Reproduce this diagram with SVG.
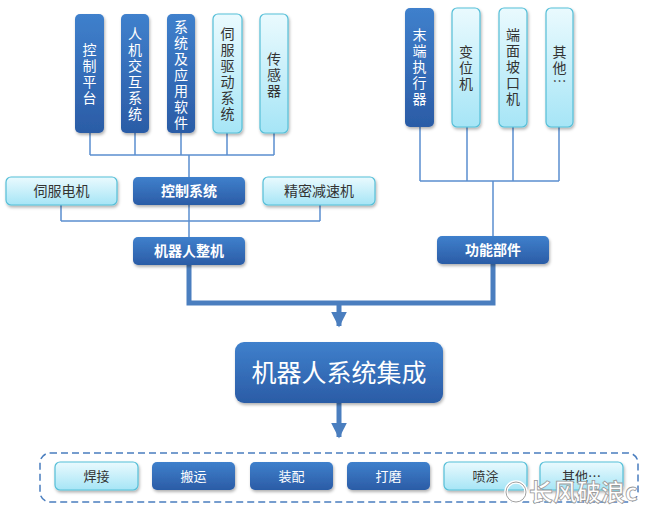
<svg xmlns="http://www.w3.org/2000/svg" width="650" height="510" viewBox="0 0 650 510">
<defs>
<linearGradient id="gd" x1="0" y1="0" x2="0" y2="1">
<stop offset="0" stop-color="#3f80cc"/>
<stop offset="1" stop-color="#2b5ca6"/>
</linearGradient>
<linearGradient id="gl" x1="0" y1="0" x2="0" y2="1">
<stop offset="0" stop-color="#eafafe"/>
<stop offset="1" stop-color="#a6e5f6"/>
</linearGradient>
<filter id="sh" x="-20%" y="-20%" width="140%" height="150%">
<feDropShadow dx="1" dy="2" stdDeviation="1.5" flood-color="#000" flood-opacity="0.3"/>
</filter>
<marker id="ah" viewBox="0 0 10 10" refX="9" refY="5" markerWidth="3.2" markerHeight="3.2" orient="auto" markerUnits="strokeWidth">
<path d="M0,0 L10,5 L0,10 z" fill="#4a7ebf"/>
</marker>
</defs>
<style>
.d{fill:url(#gd);filter:url(#sh)}
.l{fill:url(#gl);stroke:#55bfd8;stroke-width:1.2;filter:url(#sh)}
.t{font-family:"Noto Sans CJK SC","Liberation Sans",sans-serif;font-size:14px;text-anchor:middle}
.v{writing-mode:vertical-rl;text-orientation:upright;letter-spacing:2px}
.w{fill:#ffffff}
.k{fill:#333333}
.b{font-weight:bold}
.thin{fill:none;stroke:#5b8fd0;stroke-width:1.5}
.thick{fill:none;stroke:#4a7ebf;stroke-width:5}
</style>
<g id="connectors">
<path class="thin" d="M90,133 V155 M135,133 V155 M181,133 V155 M227,133 V155 M274,133 V155 M90,155 H274 M189,155 V177"/>
<path class="thin" d="M61,205 V221 M320,205 V221 M61,221 H320 M189,205 V237"/>
<path class="thin" d="M420,127 V181 M467,127 V181 M513,127 V181 M559,127 V181 M420,181 H559 M493,181 V236"/>
<path class="thick" d="M189,265 V303 H493 V264"/>
<path class="thick" d="M339,303 V326" marker-end="url(#ah)"/>
<path class="thick" d="M339,403 V437" marker-end="url(#ah)"/>
</g>
<g id="n1"><rect class="d" x="75" y="14" width="29" height="119" rx="5"/>
<text class="t v w" x="89.5" y="75">控制平台</text></g>
<g id="n2"><rect class="d" x="121" y="14" width="28" height="119" rx="5"/>
<text class="t v w" x="135" y="75">人机交互系统</text></g>
<g id="n3"><rect class="d" x="167" y="14" width="28" height="119" rx="5"/>
<text class="t v w" x="181" y="76">系统及应用软件</text></g>
<g id="n4"><rect class="l" x="213" y="14" width="29" height="119" rx="5"/>
<text class="t v k" x="227.5" y="75">伺服驱动系统</text></g>
<g id="n5"><rect class="l" x="260" y="14" width="28" height="119" rx="5"/>
<text class="t v k" x="274" y="76">传感器</text></g>
<g id="n6"><rect class="d" x="405" y="8" width="29" height="119" rx="5"/>
<text class="t v w" x="419.5" y="68">末端执行器</text></g>
<g id="n7"><rect class="l" x="452" y="8" width="28" height="119" rx="5"/>
<text class="t v k" x="466" y="69">变位机</text></g>
<g id="n8"><rect class="l" x="499" y="8" width="28" height="119" rx="5"/>
<text class="t v k" x="513" y="68">端面坡口机</text></g>
<g id="n9"><rect class="l" x="546" y="8" width="27" height="119" rx="5"/>
<text class="t v k" x="559.5" y="61">其他</text>
<text class="t k" x="559.5" y="86">…</text></g>
<g id="n10"><rect class="l" x="6" y="177" width="111" height="28" rx="5"/>
<text class="t k" x="61.5" y="196">伺服电机</text></g>
<g id="n11"><rect class="d" x="133" y="177" width="112" height="28" rx="5"/>
<text class="t w b" x="189" y="196">控制系统</text></g>
<g id="n12"><rect class="l" x="263" y="177" width="112" height="28" rx="5"/>
<text class="t k" x="319" y="196">精密减速机</text></g>
<g id="n13"><rect class="d" x="133" y="237" width="112" height="28" rx="5"/>
<text class="t w b" x="189" y="256">机器人整机</text></g>
<g id="n14"><rect class="d" x="437" y="236" width="112" height="28" rx="5"/>
<text class="t w b" x="493" y="255">功能部件</text></g>
<g id="n15"><rect class="d" x="235" y="342" width="208" height="61" rx="9"/>
<text class="t w" x="339" y="382" style="font-size:25px">机器人系统集成</text></g>
<g id="n16"><rect x="40" y="453" width="598" height="49" rx="10" fill="none" stroke="#4a7ebf" stroke-width="1.5" stroke-dasharray="7,4"/></g>
<g id="n17"><rect class="l" x="55" y="462" width="83" height="28" rx="5"/>
<text class="t k" x="96.5" y="481" style="font-size:13px">焊接</text></g>
<g id="n18"><rect class="d" x="152" y="462" width="83" height="28" rx="5"/>
<text class="t w" x="193.5" y="481" style="font-size:13px">搬运</text></g>
<g id="n19"><rect class="d" x="250" y="462" width="83" height="28" rx="5"/>
<text class="t w" x="291.5" y="481" style="font-size:13px">装配</text></g>
<g id="n20"><rect class="d" x="347" y="462" width="83" height="28" rx="5"/>
<text class="t w" x="388.5" y="481" style="font-size:13px">打磨</text></g>
<g id="n21"><rect class="l" x="444" y="462" width="83" height="28" rx="5"/>
<text class="t k" x="485.5" y="481" style="font-size:13px">喷涂</text></g>
<g id="n22"><rect class="l" x="540" y="462" width="83" height="28" rx="5"/>
<text class="t k" x="581.5" y="481" style="font-size:13px">其他…</text></g>
<g id="watermark">
<circle cx="516" cy="492" r="10" fill="none" stroke="#ffffff" stroke-width="3.5"/>
<circle cx="516" cy="492" r="10" fill="none" stroke="#a0a0a0" stroke-width="1"/>
<text x="529" y="501" style="font-family:'Noto Sans CJK SC',sans-serif;font-size:24px;font-weight:bold" fill="#ffffff" stroke="#9a9a9a" stroke-width="0.8">长风破浪c</text>
</g>
</svg>
